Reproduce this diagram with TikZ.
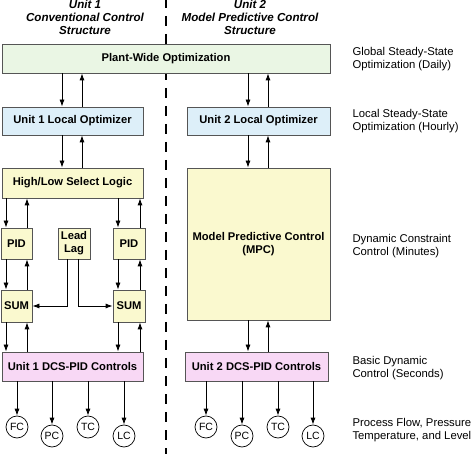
\documentclass[tikz,border=0pt]{standalone}
\usepackage{fontspec}
\setmainfont{Liberation Sans}
\usetikzlibrary{arrows.meta}
\definecolor{optgreen}{RGB}{234,246,228}
\definecolor{optblue}{RGB}{221,239,249}
\definecolor{ctlyellow}{RGB}{250,249,207}
\definecolor{dcspink}{RGB}{248,216,245}
\definecolor{edgegray}{RGB}{85,85,85}
\begin{document}
\begin{tikzpicture}[x=1pt, y=-1pt]
    \tikzstyle{box} = [draw=edgegray, line width=0.8pt, inner sep=0pt, align=center, font=\bfseries\fontsize{11.2}{13}\selectfont]
    \tikzstyle{opt} = [box, fill=optgreen]
    \tikzstyle{local} = [box, fill=optblue]
    \tikzstyle{ctl} = [box, fill=ctlyellow]
    \tikzstyle{dcs} = [box, fill=dcspink]
    \tikzstyle{loop} = [draw=black, circle, line width=0.7pt, minimum size=22pt, inner sep=0pt, font=\fontsize{10.5}{12}\selectfont]
    \tikzstyle{level} = [anchor=west, align=left, font=\fontsize{11.3}{13}\selectfont]
    \tikzstyle{unit} = [align=center, font=\bfseries\itshape\fontsize{11.6}{13}\selectfont]
    \tikzstyle{arr} = [draw=black, line width=0.8pt, -{Latex[length=7pt,width=5pt]}]
    \useasboundingbox (0,0) rectangle (474,454);
    \draw[line width=1.3pt, dash pattern=on 10pt off 8pt] (166,-2) -- (166,454);
    \node[unit] (head1) at (85,17) {Unit 1\\Conventional Control\\Structure};
    \node[unit] (head2) at (250,17) {Unit 2\\Model Predictive Control\\Structure};
    \node[opt, minimum width=328pt, minimum height=29pt] (pwo) at (166,58.5) {Plant-Wide Optimization};
    \node[local, minimum width=141pt, minimum height=28pt] (lo1) at (72.5,121) {Unit 1 Local Optimizer};
    \node[local, minimum width=143pt, minimum height=28pt] (lo2) at (258.5,121) {Unit 2 Local Optimizer};
    \node[ctl, minimum width=141pt, minimum height=30pt] (hl) at (72.5,183) {High/Low Select Logic};
    \node[ctl, minimum width=143pt, minimum height=152pt] (mpc) at (258.5,244) {Model Predictive Control\\(MPC)};
    \node[ctl, minimum width=31pt, minimum height=31pt] (pid1) at (16.5,243.5) {PID};
    \node[ctl, minimum width=32pt, minimum height=31pt] (ll) at (74,243.5) {Lead\\Lag};
    \node[ctl, minimum width=32pt, minimum height=31pt] (pid2) at (129,243.5) {PID};
    \node[ctl, minimum width=31pt, minimum height=32pt] (sum1) at (16.5,306) {SUM};
    \node[ctl, minimum width=32pt, minimum height=32pt] (sum2) at (129,306) {SUM};
    \node[dcs, minimum width=141pt, minimum height=29pt] (dcs1) at (72.5,366.5) {Unit 1 DCS-PID Controls};
    \node[dcs, minimum width=143pt, minimum height=29pt] (dcs2) at (256.5,366.5) {Unit 2 DCS-PID Controls};
    \node[loop] (fc1) at (17,427) {FC};
    \node[loop] (pc1) at (52,436) {PC};
    \node[loop] (tc1) at (88,427) {TC};
    \node[loop] (lc1) at (124,436) {LC};
    \node[loop] (fc2) at (206,427) {FC};
    \node[loop] (pc2) at (242,436) {PC};
    \node[loop] (tc2) at (278,427) {TC};
    \node[loop] (lc2) at (313,436) {LC};
    \node[level] (lvl1) at (349,59) {Global Steady-State\\Optimization (Daily)};
    \node[level] (lvl2) at (349,121) {Local Steady-State\\Optimization (Hourly)};
    \node[level] (lvl3) at (349,246) {Dynamic Constraint\\Control (Minutes)};
    \node[level] (lvl4) at (349,368) {Basic Dynamic\\Control (Seconds)};
    \node[level] (lvl5) at (349,430) {Process Flow, Pressure\\Temperature, and Level};
    \draw[arr] (pwo.south -| 62,0) -- (lo1.north -| 62,0);
    \draw[arr] (lo1.north -| 82,0) -- (pwo.south -| 82,0);
    \draw[arr] (pwo.south -| 248,0) -- (lo2.north -| 248,0);
    \draw[arr] (lo2.north -| 268,0) -- (pwo.south -| 268,0);
    \draw[arr] (lo1.south -| 62,0) -- (hl.north -| 62,0);
    \draw[arr] (hl.north -| 82,0) -- (lo1.south -| 82,0);
    \draw[arr] (lo2.south -| 248,0) -- (mpc.north -| 248,0);
    \draw[arr] (mpc.north -| 268,0) -- (lo2.south -| 268,0);
    \draw[arr] (hl.south -| 6,0) -- (pid1.north -| 6,0);
    \draw[arr] (pid1.north -| 27,0) -- (hl.south -| 27,0);
    \draw[arr] (hl.south -| 118,0) -- (pid2.north -| 118,0);
    \draw[arr] (pid2.north -| 140,0) -- (hl.south -| 140,0);
    \draw[arr] (pid1.south -| 6,0) -- (sum1.north -| 6,0);
    \draw[arr] (sum1.north -| 27,0) -- (pid1.south -| 27,0);
    \draw[arr] (pid2.south -| 118,0) -- (sum2.north -| 118,0);
    \draw[arr] (sum2.north -| 140,0) -- (pid2.south -| 140,0);
    \draw[arr] (ll.south -| 67,0) |- (sum1.east);
    \draw[arr] (ll.south -| 78,0) |- (sum2.west);
    \draw[arr] (sum1.south -| 6,0) -- (dcs1.north -| 6,0);
    \draw[arr] (dcs1.north -| 27,0) -- (sum1.south -| 27,0);
    \draw[arr] (sum2.south -| 118,0) -- (dcs1.north -| 118,0);
    \draw[arr] (dcs1.north -| 140,0) -- (sum2.south -| 140,0);
    \draw[arr] (mpc.south -| 248,0) -- (dcs2.north -| 248,0);
    \draw[arr] (dcs2.north -| 268,0) -- (mpc.south -| 268,0);
    \foreach \ctl in {fc1,pc1,tc1,lc1,fc2,pc2,tc2,lc2}
        \draw[arr] (\ctl.north |- dcs1.south) -- (\ctl.north);
\end{tikzpicture}
\end{document}
